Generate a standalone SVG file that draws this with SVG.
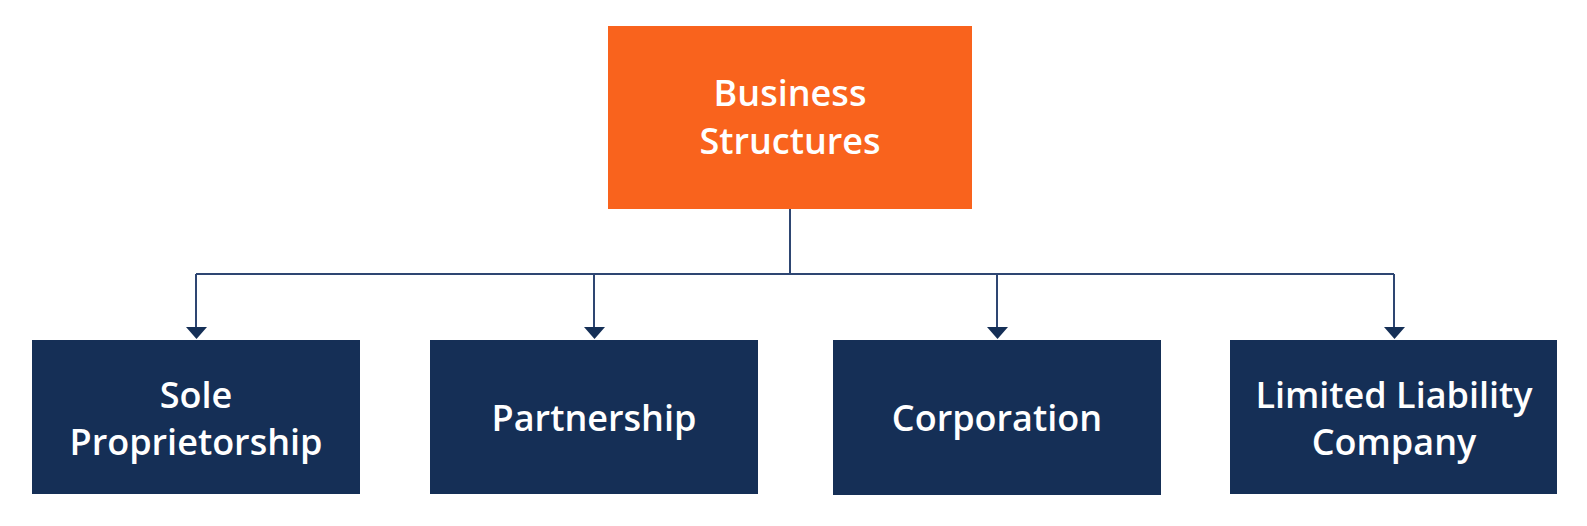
<svg xmlns="http://www.w3.org/2000/svg" width="1587" height="526" viewBox="0 0 1587 526">
<style>
.n{fill:#152f56}
.t{font-family:"Open Sans","Liberation Sans",sans-serif;font-weight:600;font-size:36px;fill:#fff;text-anchor:middle}
.c{fill:none;stroke:#2e4672;stroke-width:2}
</style>
<defs><marker id="a" markerWidth="20" markerHeight="12" refX="10" refY="12" orient="auto-start-reverse" markerUnits="userSpaceOnUse" viewBox="0 0 20 12"><path d="M0,0 L20,0 L10,12z" fill="#152f56" transform="rotate(0)"/></marker></defs>
<rect width="1587" height="526" fill="#fff"/>
<g id="connectors">
<path class="c" d="M790,209 V274 M196,274 H1394"/>
<path class="c" d="M196,274 V327"/><path d="M186,327 H207 L196.5,339z" fill="#152f56"/>
<path class="c" d="M594,274 V327"/><path d="M584,327 H605 L594.5,339z" fill="#152f56"/>
<path class="c" d="M997,274 V327"/><path d="M987,327 H1008 L997.5,339z" fill="#152f56"/>
<path class="c" d="M1394,274 V327"/><path d="M1384,327 H1405 L1394.5,339z" fill="#152f56"/>
</g>
<g id="root"><rect x="608" y="26" width="364" height="183" fill="#f9631d"/><text class="t" x="790" y="106">Business</text><text class="t" x="790" y="154">Structures</text></g>
<g id="sole"><rect class="n" x="32" y="340" width="328" height="154"/><text class="t" x="196" y="408">Sole</text><text class="t" x="196" y="455">Proprietorship</text></g>
<g id="partnership"><rect class="n" x="430" y="340" width="328" height="154"/><text class="t" x="594" y="431">Partnership</text></g>
<g id="corporation"><rect class="n" x="833" y="340" width="328" height="155"/><text class="t" x="997" y="431">Corporation</text></g>
<g id="llc"><rect class="n" x="1230" y="340" width="327" height="154"/><text class="t" x="1394" y="408">Limited Liability</text><text class="t" x="1394" y="455">Company</text></g>
</svg>
